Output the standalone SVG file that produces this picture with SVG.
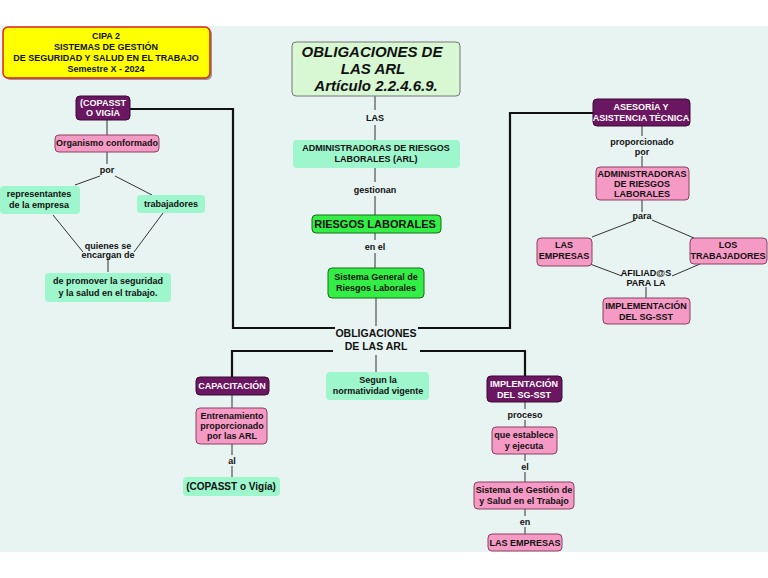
<svg xmlns="http://www.w3.org/2000/svg" width="768" height="578" viewBox="0 0 768 578">
<style>
text{font-family:"Liberation Sans",Arial,sans-serif;font-weight:bold;font-size:9px;text-anchor:middle;fill:#111}
.w{fill:#fff}
.pu{fill:#6a1660;stroke:#3a0a34;stroke-width:1}
.pk{fill:#f59ac4;stroke:#8a4060;stroke-width:1}
.mt{fill:#9ef6cc;stroke:none}
.gr{fill:#33ee44;stroke:#1a6a1a;stroke-width:1}
.ln{fill:none;stroke:#333;stroke-width:1}
.th{fill:none;stroke:#111;stroke-width:2.2}
</style>
<rect x="0" y="0" width="768" height="578" fill="#fff"/>
<rect x="0" y="26" width="768" height="526" fill="#e8f4f1"/>
<g id="connectors">
<path class="th" d="M130 109H233V328H335M418 328H510V113H593"/>
<path class="th" d="M232 377V351H333M420 351H525V376"/>
<path class="ln" d="M375 96V110M375 125V140M375 168V182M375 196V215M375 233V240M375 253V268M376 298V326M376 355V372"/>
<path class="ln" d="M107 120V135M107 152V164M100 176L75 185M115 176L152 195M53 215L83 252M163 213L134 252M108 258V272"/>
<path class="ln" d="M642 126V136M642 156V167M642 200V212M636 220L592 237M652 220L694 238M590 264L622 276M700 264L672 276M646 287V298"/>
<path class="ln" d="M232 395V408M232 444V455M232 466V477M525 402V409M525 420V427M525 454V461M525 472V482M525 509V516M525 527V534"/>
</g>
<g id="title"><rect x="5" y="29" width="207" height="51" rx="5" fill="#444" opacity="0.5"/><rect x="3" y="27" width="207" height="51" rx="5" fill="#ffff00" stroke="#e02020" stroke-width="1.5"/>
<text x="106" y="39">CIPA 2</text><text x="106" y="50">SISTEMAS DE GESTIÓN</text><text x="106" y="61">DE SEGURIDAD Y SALUD EN EL TRABAJO</text><text x="106" y="72">Semestre  X - 2024</text></g>
<g id="main"><rect x="292" y="42" width="168" height="54" rx="4" fill="#d8f8d4" stroke="#777"/>
<text x="372" y="57" style="font-size:15px;font-style:italic">OBLIGACIONES DE</text><text x="373" y="74" style="font-size:15px;font-style:italic">LAS ARL</text><text x="376" y="91" style="font-size:15px;font-style:italic">Artículo 2.2.4.6.9.</text></g>
<text x="375" y="121">LAS</text>
<g id="arl"><rect x="293" y="140" width="167" height="28" rx="4" class="mt"/><text x="376" y="151">ADMINISTRADORAS DE RIESGOS</text><text x="376" y="162">LABORALES (ARL)</text></g>
<text x="375" y="193">gestionan</text>
<g id="riesgos"><rect x="312" y="215" width="129" height="18" rx="4" class="gr"/><text x="375" y="228" style="font-size:11px">RIESGOS LABORALES</text></g>
<text x="375" y="250">en el</text>
<g id="sgrl"><rect x="328" y="268" width="96" height="30" rx="4" class="gr"/><text x="376" y="280">Sistema General de</text><text x="376" y="291">Riesgos Laborales</text></g>
<text x="376" y="337" style="font-size:10.5px">OBLIGACIONES</text><text x="376" y="350" style="font-size:10.5px">DE LAS ARL</text>
<g id="copasst"><rect x="76" y="96" width="54" height="24" rx="4" class="pu"/><text class="w" x="103" y="106">(COPASST</text><text class="w" x="103" y="116">O VIGÍA</text></g>
<g id="organismo"><rect x="55" y="135" width="104" height="17" rx="4" class="pk"/><text x="107" y="146">Organismo conformado</text></g>
<text x="107" y="173">por</text>
<g id="repr"><rect x="0" y="186" width="80" height="28" rx="4" class="mt"/><text x="39" y="197">representantes</text><text x="39" y="208">de la empresa</text></g>
<g id="trab"><rect x="137" y="195" width="68" height="18" rx="4" class="mt"/><text x="171" y="207">trabajadores</text></g>
<text x="108" y="249">quienes se</text><text x="108" y="258">encargan de</text>
<g id="promover"><rect x="45" y="273" width="126" height="29" rx="4" class="mt"/><text x="108" y="284">de promover la seguridad</text><text x="108" y="296">y la salud en el trabajo.</text></g>
<g id="asesoria"><rect x="593" y="99" width="97" height="27" rx="4" class="pu"/><text class="w" x="641" y="110">ASESORÍA Y</text><text class="w" x="641" y="121">ASISTENCIA TÉCNICA</text></g>
<text x="642" y="145">proporcionado</text><text x="642" y="155">por</text>
<g id="adm2"><rect x="596" y="167" width="93" height="33" rx="4" class="pk"/><text x="642" y="177">ADMINISTRADORAS</text><text x="642" y="187">DE RIESGOS</text><text x="642" y="197">LABORALES</text></g>
<text x="642" y="219">para</text>
<g id="lasemp"><rect x="537" y="238" width="55" height="28" rx="4" class="pk"/><text x="564" y="248">LAS</text><text x="564" y="259">EMPRESAS</text></g>
<g id="lostrab"><rect x="690" y="238" width="77" height="26" rx="4" class="pk"/><text x="728" y="248">LOS</text><text x="728" y="259">TRABAJADORES</text></g>
<text x="646" y="276">AFILIAD@S</text><text x="646" y="286">PARA LA</text>
<g id="impl1"><rect x="603" y="298" width="87" height="26" rx="4" class="pk"/><text x="646" y="309">IMPLEMENTACIÓN</text><text x="646" y="320">DEL SG-SST</text></g>
<g id="capac"><rect x="196" y="377" width="73" height="18" rx="4" class="pu"/><text class="w" x="232" y="389">CAPACITACIÓN</text></g>
<g id="entren"><rect x="196" y="408" width="71" height="36" rx="4" class="pk"/><text x="232" y="419">Entrenamiento</text><text x="232" y="429">proporcionado</text><text x="232" y="439">por las ARL</text></g>
<text x="232" y="464">al</text>
<g id="copasst2"><rect x="183" y="477" width="97" height="19" rx="4" class="mt"/><text x="231" y="490" style="font-size:10px">(COPASST o Vigía)</text></g>
<g id="segun"><rect x="326" y="372" width="103" height="28" rx="4" class="mt"/><text x="378" y="383">Segun la</text><text x="378" y="394">normatividad vigente</text></g>
<g id="implen"><rect x="487" y="376" width="75" height="26" rx="4" class="pu"/><text class="w" x="524" y="387">IMPLENTACIÓN</text><text class="w" x="524" y="398">DEL SG-SST</text></g>
<text x="525" y="418">proceso</text>
<g id="estab"><rect x="492" y="427" width="65" height="27" rx="4" class="pk"/><text x="524" y="438">que establece</text><text x="524" y="449">y ejecuta</text></g>
<text x="525" y="470">el</text>
<g id="sgsst"><rect x="474" y="482" width="100" height="27" rx="4" class="pk"/><text x="524" y="493">Sistema de Gestión de</text><text x="524" y="504">y Salud en el Trabajo</text></g>
<text x="525" y="525">en</text>
<g id="empresas"><rect x="488" y="534" width="74" height="17" rx="4" class="pk"/><text x="525" y="546">LAS EMPRESAS</text></g>
</svg>
